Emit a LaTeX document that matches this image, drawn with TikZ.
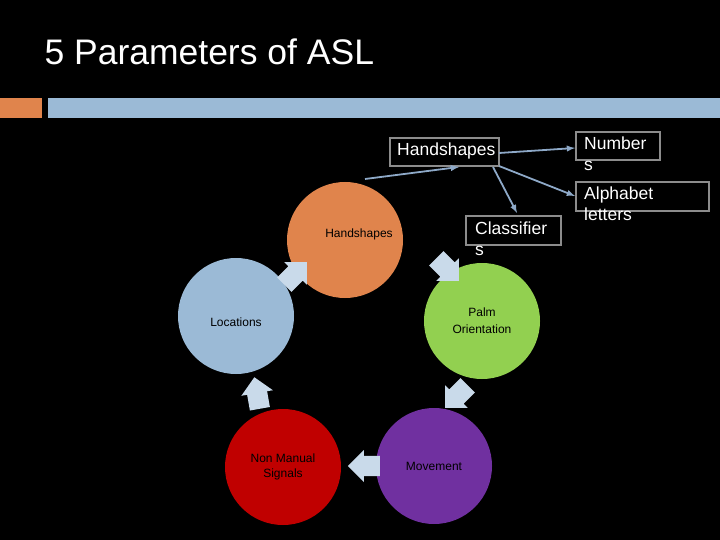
\documentclass[tikz,border=0pt]{standalone}
\usepackage{fontspec}
\setmainfont{Liberation Sans}
\usetikzlibrary{shapes.arrows}
\definecolor{hsorange}{HTML}{E0844C}
\definecolor{locblue}{HTML}{9BBAD6}
\definecolor{palmgreen}{HTML}{92D050}
\definecolor{movpurple}{HTML}{7030A0}
\definecolor{nmsred}{HTML}{C00000}
\definecolor{blockblue}{HTML}{C9DAEA}
\definecolor{linkblue}{HTML}{8EA9C8}
\definecolor{boxgray}{HTML}{8C8C8C}
\tikzset{
  param/.style={circle,minimum size=116pt,inner sep=0pt,align=center,font=\fontsize{12}{15}\selectfont},
  flow/.style={single arrow,fill=blockblue,minimum height=32pt,minimum width=32pt,single arrow head extend=3pt,single arrow head indent=0pt,inner sep=5pt},
  tag/.style={draw=boxgray,line width=2.5pt,fill=black},
  tagtext/.style={text=white,font=\fontsize{17.5}{21}\selectfont,align=left,anchor=north west,inner sep=0pt},
  link/.style={draw=linkblue,line width=1.8pt,-latex}
}
\begin{document}
\begin{tikzpicture}[x=1pt,y=-1pt]
  \fill[black] (0,0) rectangle (720,540);
  \useasboundingbox (0,0) rectangle (720,540);
  \node[anchor=west,text=white,font=\fontsize{35.5}{40}\selectfont] (title) at (41,52) {5 Parameters of ASL};
  \fill[hsorange] (0,98) rectangle (42,118);
  \fill[locblue] (48,98) rectangle (720,118);

  % the five parameters
  \node[param,fill=hsorange] (hand) at (345,240) {};
  \node[font=\fontsize{12}{15}\selectfont] (handlbl) at (359,234) {Handshapes};
  \node[param,fill=palmgreen] (palm) at (482,321) {Palm\\[2pt]Orientation};
  \node[param,fill=movpurple] (move) at (434,466) {Movement};
  \node[param,fill=nmsred] (nms) at (283,467) {Non Manual\\Signals};
  \node[param,fill=locblue] (loc) at (236,316) {};
  \node[font=\fontsize{12}{15}\selectfont] (loclbl) at (236,322) {Locations};

  \node[flow,rotate=45] (f1) at (292,277) {};
  \node[flow,rotate=-45] (f2) at (444,266) {};
  \node[flow,rotate=-135] (f3) at (460,393) {};
  \node[flow,rotate=180] (f4) at (369,466) {};
  \node[flow,rotate=100] (f5) at (258,398) {};

  % handshape subtypes
  \draw[tag] (390,138) rectangle (499,166);
  \node[tagtext] (hbox) at (397,143) {Handshapes};
  \draw[tag] (576,132) rectangle (660,160);
  \node[tagtext] (nbox) at (584,137) {Number\\s};
  \draw[tag] (576,182) rectangle (709,211);
  \node[tagtext] (abox) at (584,187) {Alphabet\\letters};
  \draw[tag] (466,216) rectangle (561,245);
  \node[tagtext] (cbox) at (475,222) {Classifier\\s};

  \coordinate (hsrc) at (365,179);
  \coordinate (htop) at (459,167);
  \draw[link] (hsrc) -- (htop);
  \draw[link] (499,153) -- (575,148);
  \draw[link] (499,166) -- (575,196);
  \draw[link] (493,167) -- (517,213);
\end{tikzpicture}
\end{document}
